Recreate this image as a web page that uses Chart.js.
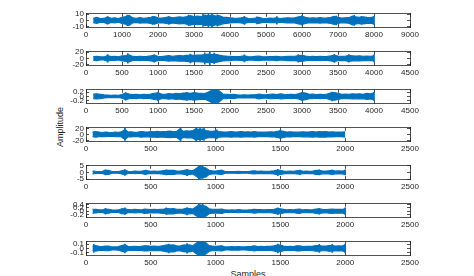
<!DOCTYPE html>
<html><head><meta charset="utf-8">
<script src="https://cdn.jsdelivr.net/npm/chart.js@4.4.1/dist/chart.umd.min.js"></script>
<style>
html,body{margin:0;padding:0;background:#fff;width:474px;height:276px;overflow:hidden;position:relative;font-family:"Liberation Sans",Arial,sans-serif;}
canvas{position:absolute;left:0;}
.lbl{position:absolute;color:#262626;font-size:9px;white-space:nowrap;line-height:1;}
</style></head><body>
<div class="lbl" style="left:60px;top:127px;transform:translate(-50%,-50%) rotate(-90deg);">Amplitude</div>
<div class="lbl" style="left:248px;top:270px;transform:translateX(-50%);">Samples</div>
<script>
// ---- sample positions (x) ----
const samples8k = [200,300,400,500,600,700,800,900,1000,1100,1200,1300,1400,1500,1600,1700,1800,1900,2000,2100,2200,2300,2400,2500,2600,2700,2800,2900,3000,3100,3200,3300,3400,3500,3600,3700,3800,3900,4000,4100,4200,4300,4400,4500,4600,4700,4800,4900,5000,5100,5200,5300,5400,5500,5600,5700,5800,5900,6000,6100,6200,6300,6400,6500,6600,6700,6800,6900,7000,7100,7200,7300,7400,7500,7600,7700,7800,7900,8000];
const samples4k = [100,150,200,250,300,350,400,450,500,550,600,650,700,750,800,850,900,950,1000,1050,1100,1150,1200,1250,1300,1350,1400,1450,1500,1550,1600,1650,1700,1750,1800,1850,1900,1950,2000,2050,2100,2150,2200,2250,2300,2350,2400,2450,2500,2550,2600,2650,2700,2750,2800,2850,2900,2950,3000,3050,3100,3150,3200,3250,3300,3350,3400,3450,3500,3550,3600,3650,3700,3750,3800,3850,3900,3950,4000];
const samples2k = [50,75,100,125,150,175,200,225,250,275,300,325,350,375,400,425,450,475,500,525,550,575,600,625,650,675,700,725,750,775,800,825,850,875,900,925,950,975,1000,1025,1050,1075,1100,1125,1150,1175,1200,1225,1250,1275,1300,1325,1350,1375,1400,1425,1450,1475,1500,1525,1550,1575,1600,1625,1650,1675,1700,1725,1750,1775,1800,1825,1850,1875,1900,1925,1950,1975,2000];

// ---- amplitude envelopes (core band) ----
const env1 = [3.5,4.8,3.0,3.2,5.6,3.4,4.2,3.0,5.0,6.0, 8.0,4.0,3.4,4.4,3.5,4.0,5.0,6.2,4.2,3.6, 4.6,5.8,4.0,4.8,5.6,4.8,6.0,7.5,6.2,7.0, 6.2,8.5,7.2,9.0,6.8,7.5,5.5,4.8,4.2,3.6, 3.4,4.0,5.0,3.4,3.0,3.8,4.8,3.4,3.0,3.8, 3.4,4.2,3.0,3.6,4.2,3.8,4.2,5.6,6.6,5.0, 3.6,4.2,3.6,4.4,3.6,4.2,5.0,6.6,4.8,3.8, 4.2,4.4,7.0,5.6,5.0,5.8,4.8,4.4,5.6];
const env2 = [5.5,7.0,5.0,4.8,9.0,5.8,6.4,5.2,8.0,9.0, 11,6.4,5.8,7.0,5.8,6.4,8.0,9.5,7.0,5.8, 7.6,9.0,7.0,8.0,9.0,8.0,9.5,11,9.5,10.5, 11,12.5,14,12,13,10.5,8.5,7.4,7.0,5.8, 5.8,6.4,8.0,5.8,5.2,6.4,7.4,5.8,5.2,5.8, 5.8,7.0,5.2,5.8,7.0,6.4,7.0,9.0,10,7.4, 5.8,7.0,5.8,7.0,5.8,6.4,8.0,10,7.4,6.4, 7.0,9.5,8.5,7.4,8.5,7.0,7.4,7.0,8.5];
const env3 = [0.11,0.12,0.10,0.07,0.06,0.05,0.06,0.05,0.085,0.15, 0.11,0.085,0.10,0.07,0.10,0.085,0.11,0.14,0.16,0.11, 0.10,0.13,0.11,0.14,0.12,0.15,0.16,0.14,0.17,0.15, 0.14,0.13,0.20,0.29,0.27,0.25,0.11,0.10,0.085,0.10, 0.07,0.065,0.07,0.06,0.07,0.07,0.11,0.085,0.07,0.10, 0.11,0.085,0.12,0.10,0.085,0.10,0.085,0.12,0.17,0.15, 0.10,0.11,0.085,0.10,0.085,0.11,0.16,0.17,0.14,0.10, 0.11,0.10,0.12,0.11,0.12,0.10,0.14,0.12,0.16];
const env4 = [8,9.5,8,6.5,8,7,6.5,8,7,8.5, 17,8,8.5,7,8,9.5,8.5,8,9.5,8.5, 10,8.5,9.5,10,11,9,10.5,18,10.5,12, 11,13,19,16,18,13,11,10,12,9.5, 8.5,8,8.5,9.5,8,8.5,9.5,8,8.5,8, 9.5,7.5,8,7.5,8,8.5,8,10.5,12,10, 8,8.5,8,7.5,8,8.5,8,8.5,9.5,8, 9.5,8.5,9.5,8,8.5,7.5,8,7.5,9];
const env5 = [1.1,0.85,0.7,0.85,1.6,1.5,0.7,0.65,0.7,1.25, 1.8,0.85,0.7,1.0,0.85,0.8,1.4,1.25,0.85,1.0, 0.85,1.1,1.4,1.6,1.5,1.6,1.1,1.0,1.4,1.9, 1.6,1.25,3.0,4.6,4.0,3.4,1.6,1.25,1.1,1.4, 1.5,0.7,0.65,0.7,0.65,0.85,0.7,0.65,0.7,1.0, 1.25,0.85,1.0,0.85,0.9,1.0,1.25,1.8,1.6,1.1, 0.85,1.0,0.85,1.25,1.4,0.85,1.0,0.85,1.0,1.5, 1.6,1.1,1.0,1.25,1.5,1.1,1.25,1.1,1.5];
const env6 = [0.12,0.11,0.08,0.08,0.135,0.12,0.08,0.07,0.08,0.15, 0.16,0.095,0.08,0.11,0.095,0.08,0.135,0.12,0.095,0.11, 0.095,0.12,0.135,0.16,0.15,0.16,0.12,0.11,0.135,0.175, 0.16,0.135,0.27,0.40,0.34,0.30,0.15,0.12,0.11,0.12, 0.135,0.08,0.07,0.08,0.07,0.095,0.08,0.07,0.08,0.095, 0.12,0.095,0.095,0.08,0.095,0.095,0.12,0.16,0.15,0.11, 0.08,0.095,0.08,0.12,0.135,0.08,0.095,0.08,0.095,0.135, 0.15,0.11,0.095,0.12,0.135,0.11,0.12,0.11,0.16];
const env7 = [0.055,0.065,0.047,0.04,0.055,0.055,0.034,0.034,0.04,0.065, 0.08,0.047,0.04,0.047,0.04,0.047,0.06,0.06,0.047,0.055, 0.047,0.055,0.065,0.08,0.075,0.08,0.06,0.055,0.075,0.08, 0.08,0.06,0.12,0.16,0.15,0.13,0.065,0.055,0.047,0.055, 0.06,0.034,0.034,0.04,0.034,0.04,0.034,0.034,0.04,0.047, 0.06,0.04,0.047,0.04,0.047,0.047,0.06,0.075,0.075,0.055, 0.04,0.047,0.04,0.06,0.06,0.04,0.047,0.047,0.055,0.065, 0.065,0.055,0.055,0.065,0.065,0.055,0.06,0.055,0.08];

// ---- individual tall peaks ----
const peakX1 = [600,1150,1850,2300,2850,3250,3400,3500,3650,4400,4750,5300,6000,6950,7450,7650,8000];
const peakA1 = [5.5,8.5,6.5,6,8.5,9.5,10.5,10,9,6.5,5.5,6,7.5,7,8,6.5,6.5];
const peakX2 = [300,580,950,1450,1650,1720,1780,2200,2950,3450,3650,4000];
const peakA2 = [12,15,12,14,18,20,17,11,12,13,12,11];
const peakX3 = [550,1000,1400,1760,1830,3000,3420,4000];
const peakA3 = [0.17,0.2,0.18,0.3,0.29,0.19,0.2,0.18];
const peakX4 = [300,730,850,880,910,1010,1500];
const peakA4 = [20,22,22,21,20,15,14];
const peakX5 = [150,300,460,620,780,870,900,1040,1480,1650,1800,1900,2000];
const peakA5 = [2.0,2.2,1.8,2.0,2.4,5,4.6,1.8,2.4,1.8,2.0,1.8,2.0];
const peakX6 = [150,300,620,780,870,900,1480,1800,2000];
const peakA6 = [0.18,0.2,0.2,0.22,0.45,0.42,0.2,0.18,0.2];
const peakX7 = [60,300,640,780,875,905,1480,1800,1900,2000];
const peakA7 = [0.09,0.1,0.1,0.11,0.15,0.15,0.1,0.09,0.09,0.1];

// ---- tick labels ----
const xTicks9000 = [0,1000,2000,3000,4000,5000,6000,7000,8000,9000];
const xTicks4500 = [0,500,1000,1500,2000,2500,3000,3500,4000,4500];
const xTicks2500 = [0,500,1000,1500,2000,2500];
const yTicks1 = [-10,0,10];
const yTicks2 = [-20,0,20];
const yTicks3 = [-0.2,0,0.2];
const yTicks4 = [-20,0,20];
const yTicks5 = [-5,0,5];
const yTicks6 = [-0.2,0,0.2,0.4];
const yTicks7 = [-0.1,0,0.1];

// ---- panel definitions ----
const panels = [
  {x:samples8k, env:env1, px:peakX1, pa:peakA1, xmax:9000, xt:xTicks9000, ymin:-10.5, ymax:10.5, yt:yTicks1},
  {x:samples4k, env:env2, px:peakX2, pa:peakA2, xmax:4500, xt:xTicks4500, ymin:-21, ymax:21, yt:yTicks2},
  {x:samples4k, env:env3, px:peakX3, pa:peakA3, xmax:4500, xt:xTicks4500, ymin:-0.3, ymax:0.3, yt:yTicks3},
  {x:samples2k, env:env4, px:peakX4, pa:peakA4, xmax:2500, xt:xTicks2500, ymin:-22, ymax:22, yt:yTicks4},
  {x:samples2k, env:env5, px:peakX5, pa:peakA5, xmax:2500, xt:xTicks2500, ymin:-5, ymax:5, yt:yTicks5},
  {x:samples2k, env:env6, px:peakX6, pa:peakA6, xmax:2500, xt:xTicks2500, ymin:-0.35, ymax:0.45, yt:yTicks6},
  {x:samples2k, env:env7, px:peakX7, pa:peakA7, xmax:2500, xt:xTicks2500, ymin:-0.15, ymax:0.15, yt:yTicks7}
];

const BLUE = '#0072BD', AX = '#262626';
const FONT = {family:'"Liberation Sans", Arial, sans-serif', size:8};
const PLOT_TOP0 = 7, PLOT_STEP = 38, PLOT_H = 20, PAD_TOP = 3, XAX_H = 14;

function setTicks(arr){ return s => { s.ticks = arr.map(v => ({value:v})); }; }
const plain = v => String(v);

panels.forEach((p, i) => {
  const c = document.createElement('canvas');
  c.width = 474; c.height = PAD_TOP + PLOT_H + XAX_H;
  c.style.top = (PLOT_TOP0 + i*PLOT_STEP - PAD_TOP) + 'px';
  document.body.appendChild(c);
  const upper = p.x.map((x, k) => ({x, y: p.env[k]}));
  const lower = p.x.map((x, k) => ({x, y: -p.env[k]}));
  const peaks = p.px.map((x, k) => ({x, y: [-p.pa[k], p.pa[k]]}));
  const gridOpts = {drawOnChartArea:false, tickLength:-3, color:AX, lineWidth:0.8};
  const border = {display:true, color:AX, width:0.8};
  new Chart(c, {
    type:'line',
    data:{datasets:[
      {data:upper, xAxisID:'x', yAxisID:'y', borderColor:BLUE, backgroundColor:BLUE, borderWidth:1.1, pointRadius:0, tension:0, fill:'+1'},
      {data:lower, xAxisID:'x', yAxisID:'y', borderColor:BLUE, backgroundColor:BLUE, borderWidth:1.1, pointRadius:0, tension:0, fill:false},
      {type:'bar', data:peaks, xAxisID:'x', yAxisID:'y', backgroundColor:BLUE, borderWidth:0, barThickness:1, grouped:false}
    ]},
    options:{
      animation:false, responsive:false, devicePixelRatio:1, events:[],
      layout:{padding:{top:PAD_TOP, right:64, left:0, bottom:0}},
      plugins:{legend:{display:false}, tooltip:{enabled:false}},
      scales:{
        x:{type:'linear', position:'bottom', min:0, max:p.xmax, offset:false, afterBuildTicks:setTicks(p.xt),
           afterFit:s=>{s.height = XAX_H;}, grid:{...gridOpts, offset:false}, border,
           ticks:{font:FONT, color:AX, padding:6, maxRotation:0, autoSkip:false, callback:plain}},
        xt:{type:'linear', position:'top', min:0, max:p.xmax, offset:false, afterBuildTicks:setTicks(p.xt),
           afterFit:s=>{s.height = 0;}, grid:{...gridOpts, offset:false}, border, ticks:{display:false}},
        y:{type:'linear', position:'left', min:p.ymin, max:p.ymax, afterBuildTicks:setTicks(p.yt),
           afterFit:s=>{s.width = 86;}, grid:gridOpts, border,
           ticks:{font:FONT, color:AX, padding:5, autoSkip:false, callback:plain}},
        yr:{type:'linear', position:'right', min:p.ymin, max:p.ymax, afterBuildTicks:setTicks(p.yt),
           afterFit:s=>{s.width = 0;}, grid:gridOpts, border, ticks:{display:false}}
      }
    }
  });
});
</script>
</body></html>
